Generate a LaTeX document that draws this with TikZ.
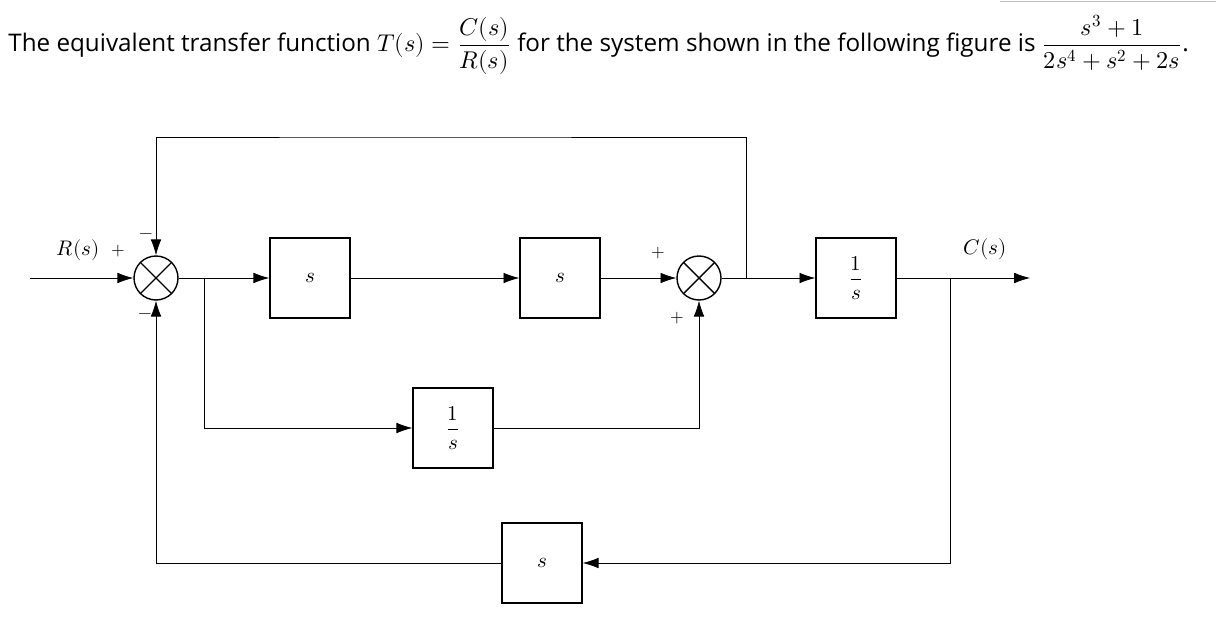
\documentclass[tikz,border=0pt]{standalone}
\usepackage{fontspec}
\setmainfont{Open Sans}
\usepackage{unicode-math}
\setmathfont{Latin Modern Math}
\usetikzlibrary{arrows.meta}
\begin{document}
\begin{tikzpicture}[x=0.02cm,y=-0.02cm,
  blk/.style={draw,thick,minimum width=1.6cm,minimum height=1.6cm,font=\rmfamily\large},
  sum/.style={draw,thick,circle,minimum size=0.88cm,inner sep=0pt,path picture={
     \draw[thick] (path picture bounding box.north west)--(path picture bounding box.south east)
       (path picture bounding box.north east)--(path picture bounding box.south west);}},
  ar/.style={-{Latex[length=9pt,width=6pt]},thin},
  lab/.style={font=\rmfamily\large}]
\useasboundingbox (0,0) rectangle (1216,618);
\draw[gray!50] (1000,1) -- (1216,1);
\node[anchor=west,inner sep=0pt,font=\fontsize{13.8}{17}\selectfont] (hd) at (8,45) {The equivalent transfer function $T(s)=\dfrac{C(s)}{R(s)}$ for the system shown in the following figure is $\dfrac{s^3+1}{2s^4+s^2+2s}$.};
\node[sum] (s1) at (156,278) {};
\node[sum] (s2) at (699,278) {};
\node[blk] (b1) at (310,278) {$s$};
\node[blk] (b2) at (560,278) {$s$};
\node[blk] (b3) at (856,278) {$\dfrac{1}{s}$};
\node[blk] (b4) at (453,428) {$\dfrac{1}{s}$};
\node[blk] (b5) at (542,563) {$s$};
\coordinate (in) at (30,278);
\coordinate (out) at (1030,278);
\coordinate (p1) at (204,278);
\coordinate (p2) at (746,278);
\coordinate (p3) at (950,278);
\draw[ar] (in) -- (s1.west);
\draw[ar] (s1.east) -- (b1.west);
\draw[ar] (b1.east) -- (b2.west);
\draw[ar] (b2.east) -- (s2.west);
\draw[ar] (s2.east) -- (b3.west);
\draw[ar] (b3.east) -- (out);
\draw[ar] (p1) |- (b4.west);
\draw[ar] (b4.east) -| (s2.south);
\draw[ar] (p2) |- (400,137) -| (s1.north);
\draw[ar] (p3) |- (b5.east);
\draw[ar] (b5.west) -| (s1.south);
\node[lab] (r) at (78,250) {$R(s)$};
\node[lab] (c) at (985,249) {$C(s)$};
\node (m1) at (118,251) {$+$};
\node (m2) at (146,236) {$-$};
\node (m3) at (145,316) {$-$};
\node (m4) at (658,253) {$+$};
\node (m5) at (677,318) {$+$};
\end{tikzpicture}
\end{document}
